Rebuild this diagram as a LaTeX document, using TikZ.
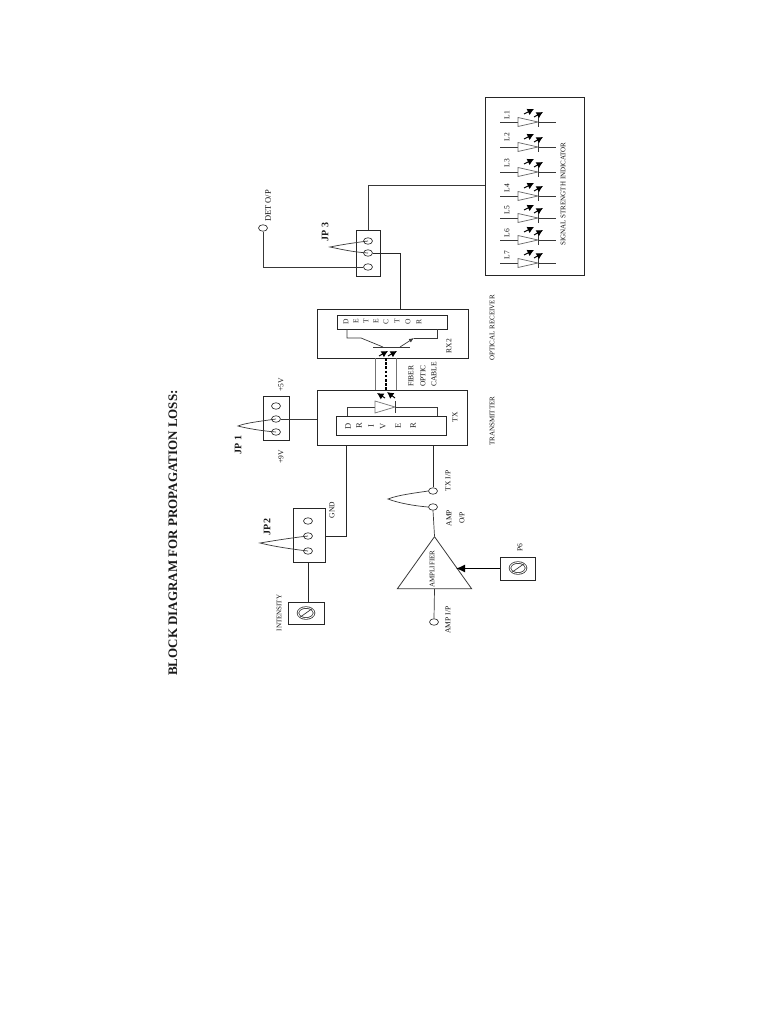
\documentclass[tikz,border=0pt]{standalone}
\usepackage{fontspec}
\setmainfont{Liberation Serif}
\usetikzlibrary{shapes.geometric,arrows.meta,calc}
\definecolor{ink}{gray}{0.22}
\tikzset{
  wire/.style={draw=ink,line width=0.7pt},
  heavy/.style={draw=black!85,line width=1pt},
  boxn/.style={draw=black!85,line width=0.9pt,rectangle,inner sep=0,fill=white},
  term/.style={draw=ink,line width=0.7pt,ellipse,inner sep=0,minimum width=9pt,minimum height=6.5pt,fill=white},
  knob/.style={draw=ink,line width=0.8pt,ellipse,inner sep=0,minimum width=16pt,minimum height=11pt,double,double distance=0.8pt},
  lab/.style={rotate=90,inner sep=0,font=\fontsize{7.5}{8}\selectfont,text=black!95},
  jplab/.style={rotate=90,inner sep=0,font=\bfseries\fontsize{10}{11}\selectfont,text=black!90},
  lett/.style={rotate=90,inner sep=0,font=\fontsize{8.5}{9}\selectfont,text=black!85},
  ray/.style={draw=black,line width=1pt,-{Latex[length=6.5pt,width=7pt]}},
  fib/.style={draw=black!55,line width=0.9pt},
}
\begin{document}
\begin{tikzpicture}[x=1pt,y=-1pt]
\useasboundingbox[fill=white] (0,0) rectangle (768,1024);

\node[rotate=90,inner sep=0,font=\bfseries\fontsize{13}{15}\selectfont,text=black!90] (title) at (173,533) {BLOCK DIAGRAM FOR PROPAGATION LOSS:};

% ---- boxes
\node[boxn,minimum width=150pt,minimum height=55pt] (tx) at (392,417.5) {};
\node[boxn,minimum width=110pt,minimum height=19pt] (drv) at (391,425.5) {};
\node[boxn,minimum width=151pt,minimum height=49pt] (rx) at (392.5,333.5) {};
\node[boxn,minimum width=110pt,minimum height=14pt] (det) at (392,322) {};
\node[boxn,minimum width=26pt,minimum height=44pt] (jp1) at (276,418) {};
\node[boxn,minimum width=32pt,minimum height=54pt] (jp2) at (309,535) {};
\node[boxn,minimum width=24pt,minimum height=46pt] (jp3) at (368,253) {};
\node[boxn,minimum width=36pt,minimum height=22pt] (inten) at (306,613) {};
\node[boxn,minimum width=35pt,minimum height=23pt] (p6) at (517.5,568.5) {};
\node[draw=black!85,line width=0.8pt,rectangle,inner sep=0,minimum width=99pt,minimum height=178pt] (ind) at (534.5,186) {};

% ---- driver / detector lettering
\foreach \c/\x in {D/348,R/359,I/371,V/383,E/398,R/413}
  \node[lett] (drv\x) at (\x,426) {\c};
\foreach \c/\x in {D/346,E/356,T/366,E/376,C/386,T/397,O/408,R/419}
  \node[lett,font=\fontsize{7.5}{8}\selectfont] (det\x) at (\x,321.5) {\c};

% ---- terminals
\node[term] (a1) at (276,406) {}; \node[term] (a2) at (276,419) {}; \node[term] (a3) at (276,432) {};
\node[term] (b1) at (308,521) {}; \node[term] (b2) at (308,536) {}; \node[term] (b3) at (308,551) {};
\node[term] (c1) at (368,241) {}; \node[term] (c2) at (368,253) {}; \node[term] (c3) at (368,267) {};
\node[term] (detop) at (263,228) {};
\node[term] (txip) at (433,491) {};
\node[term] (ampop) at (433,507) {};
\node[term] (ampip) at (434,622) {};

% ---- jumpers
\coordinate (ja) at (238,426);
\coordinate (jb) at (260,543);
\coordinate (jc) at (330,247);
\coordinate (jd) at (388,499);
\draw[wire] (a2.center) .. controls (262,421) and (245,423) .. (ja) .. controls (245,428) and (262,431) .. (a3.center);
\draw[wire] (b2.center) .. controls (290,538) and (272,541) .. (jb) .. controls (272,546) and (290,549) .. (b3.center);
\draw[wire] (c1.center) .. controls (352,243) and (340,245) .. (jc) .. controls (340,249) and (352,252) .. (c2.center);
\draw[wire] (txip.west) .. controls (415,493) and (398,495) .. (jd) .. controls (398,503) and (415,506) .. (ampop.west);

% ---- connectors
\draw[wire] (a2.east) -- (a2.east -| tx.west);
\coordinate (txg) at (346,445);
\draw[heavy] (txg) |- (b2 -| jp2.east);
\draw[heavy] (b3.south |- jp2.south) -- (b3.south |- inten.north);
\coordinate (txo) at (433,445);
\draw[heavy] (txo) -- (txip.north);
\coordinate (rxt) at (400,309);
\draw[heavy] (rxt) |- (c2.east);
\draw[wire] (c3.west) -| (detop.south);
\draw[wire] (c2 |- jp3.north) |- (ind.west |- 0,185);

% ---- amplifier
\node[draw=ink,line width=0.8pt,isosceles triangle,isosceles triangle apex angle=71,shape border rotate=90,inner sep=0,minimum height=52pt,anchor=apex] (amp) at (434.5,536) {};
\draw[wire] (ampop.south) -- (amp.apex);
\draw[wire] (amp.south) -- (ampip.north);
\node[lab,font=\fontsize{7}{7}\selectfont] (ampl) at (432,569) {AMPLIFIER};
\draw[draw=black,line width=1.2pt,-{Latex[length=9pt,width=8pt]}] (p6.west) -- (456,568.5);

% ---- knobs
\node[knob] (k1) at (306,613) {};
\node[knob] (k2) at (518,568) {};
\draw[wire] (k1.south west) -- (k1.north east);
\draw[wire] (k2.south west) -- (k2.north east);

% ---- optical link
\coordinate (f1a) at (375,358); \coordinate (f1b) at (375,390);
\coordinate (f2a) at (396,358); \coordinate (f2b) at (396,390);
\draw[fib] (f1a) -- (f1b);
\draw[fib] (f2a) -- (f2b);
\coordinate (fd1) at (386,358); \coordinate (fd2) at (386,390);
\draw[draw=black,line width=1.4pt,dash pattern=on 2.6pt off 1.6pt] (fd1) -- (fd2);

% ---- TX LED
\draw[wire] (drv.north -| 347,0) |- (375,407);
\draw[wire,draw=black!55] (375,401) -- (375,413) -- (395,407) -- cycle;
\draw[wire,line width=1pt] (395,401) -- (395,413);
\draw[wire] (395,407) -| (437,416);
\draw[ray] (385,398) -- (377,393);
\draw[ray] (395,398) -- (387,392);

% ---- RX phototransistor
\draw[wire] (347,329) |- (361,338) -- (383,347);
\draw[wire] (373,347) -- (410,347);
\draw[wire,-{Latex[length=5pt,width=4pt]}] (400,347) -- (414,338);
\draw[wire] (414,338) -| (437,329);
\draw[ray] (379,356) -- (388,351);
\draw[ray] (388,356) -- (397,351);

% ---- indicator LEDs
\foreach \n/\y/\ly in {1/122/115,2/147/137,3/172/163,4/196/188,5/218/210,6/240/233,7/263/255}{
  \draw[wire] (500,\y) -- (518,\y);
  \draw[wire] (538,\y) -- (556,\y);
  \draw[wire,draw=black!60] (518,\y-4.5) -- (518,\y+4.5) -- (538,\y) -- cycle;
  \draw[wire,line width=1pt] (538,\y-5) -- (538,\y+5);
  \draw[ray] (524,\y-8) -- (534,\y-13);
  \draw[ray] (534,\y-5) -- (543,\y-10);
  \node[lab] (L\n) at (507,\ly) {L\n};
}

% ---- labels
\node[lab,font=\fontsize{7}{7}\selectfont] (sig) at (563,194) {SIGNAL STRENGTH INDICATOR};
\node[lab,font=\fontsize{8.5}{9}\selectfont] (deto) at (268,206) {DET O/P};
\node[jplab] (jp3l) at (325,232) {JP 3};
\node[jplab] (jp1l) at (238,445) {JP 1};
\node[jplab] (jp2l) at (267,527) {JP2};
\node[lab] (p5) at (281,385) {+5V};
\node[lab] (p9) at (281,457) {+9V};
\node[lab] (gnd) at (332,510) {GND};
\node[lab,font=\fontsize{7}{7}\selectfont] (intl) at (279,613) {INTENSITY};
\node[lab] (txl) at (455,417) {TX};
\node[lab] (rxl) at (449,346) {RX2};
\node[lab,font=\fontsize{7}{7}\selectfont] (trl) at (492,421) {TRANSMITTER};
\node[lab,font=\fontsize{7}{7}\selectfont] (orl) at (492,328) {OPTICAL RECEIVER};
\node[lab,anchor=west] (fo1) at (411,387) {FIBER};
\node[lab,anchor=west] (fo2) at (423,387) {OPTIC};
\node[lab,anchor=west] (fo3) at (434,387) {CABLE};
\node[lab] (txip2) at (448,481) {TX I/P};
\node[lab] (amp1) at (449,518) {AMP};
\node[lab] (amp2) at (462,518) {O/P};
\node[lab] (ampi) at (448,620) {AMP I/P};
\node[lab] (p6l) at (520,548) {P6};
\end{tikzpicture}
\end{document}
